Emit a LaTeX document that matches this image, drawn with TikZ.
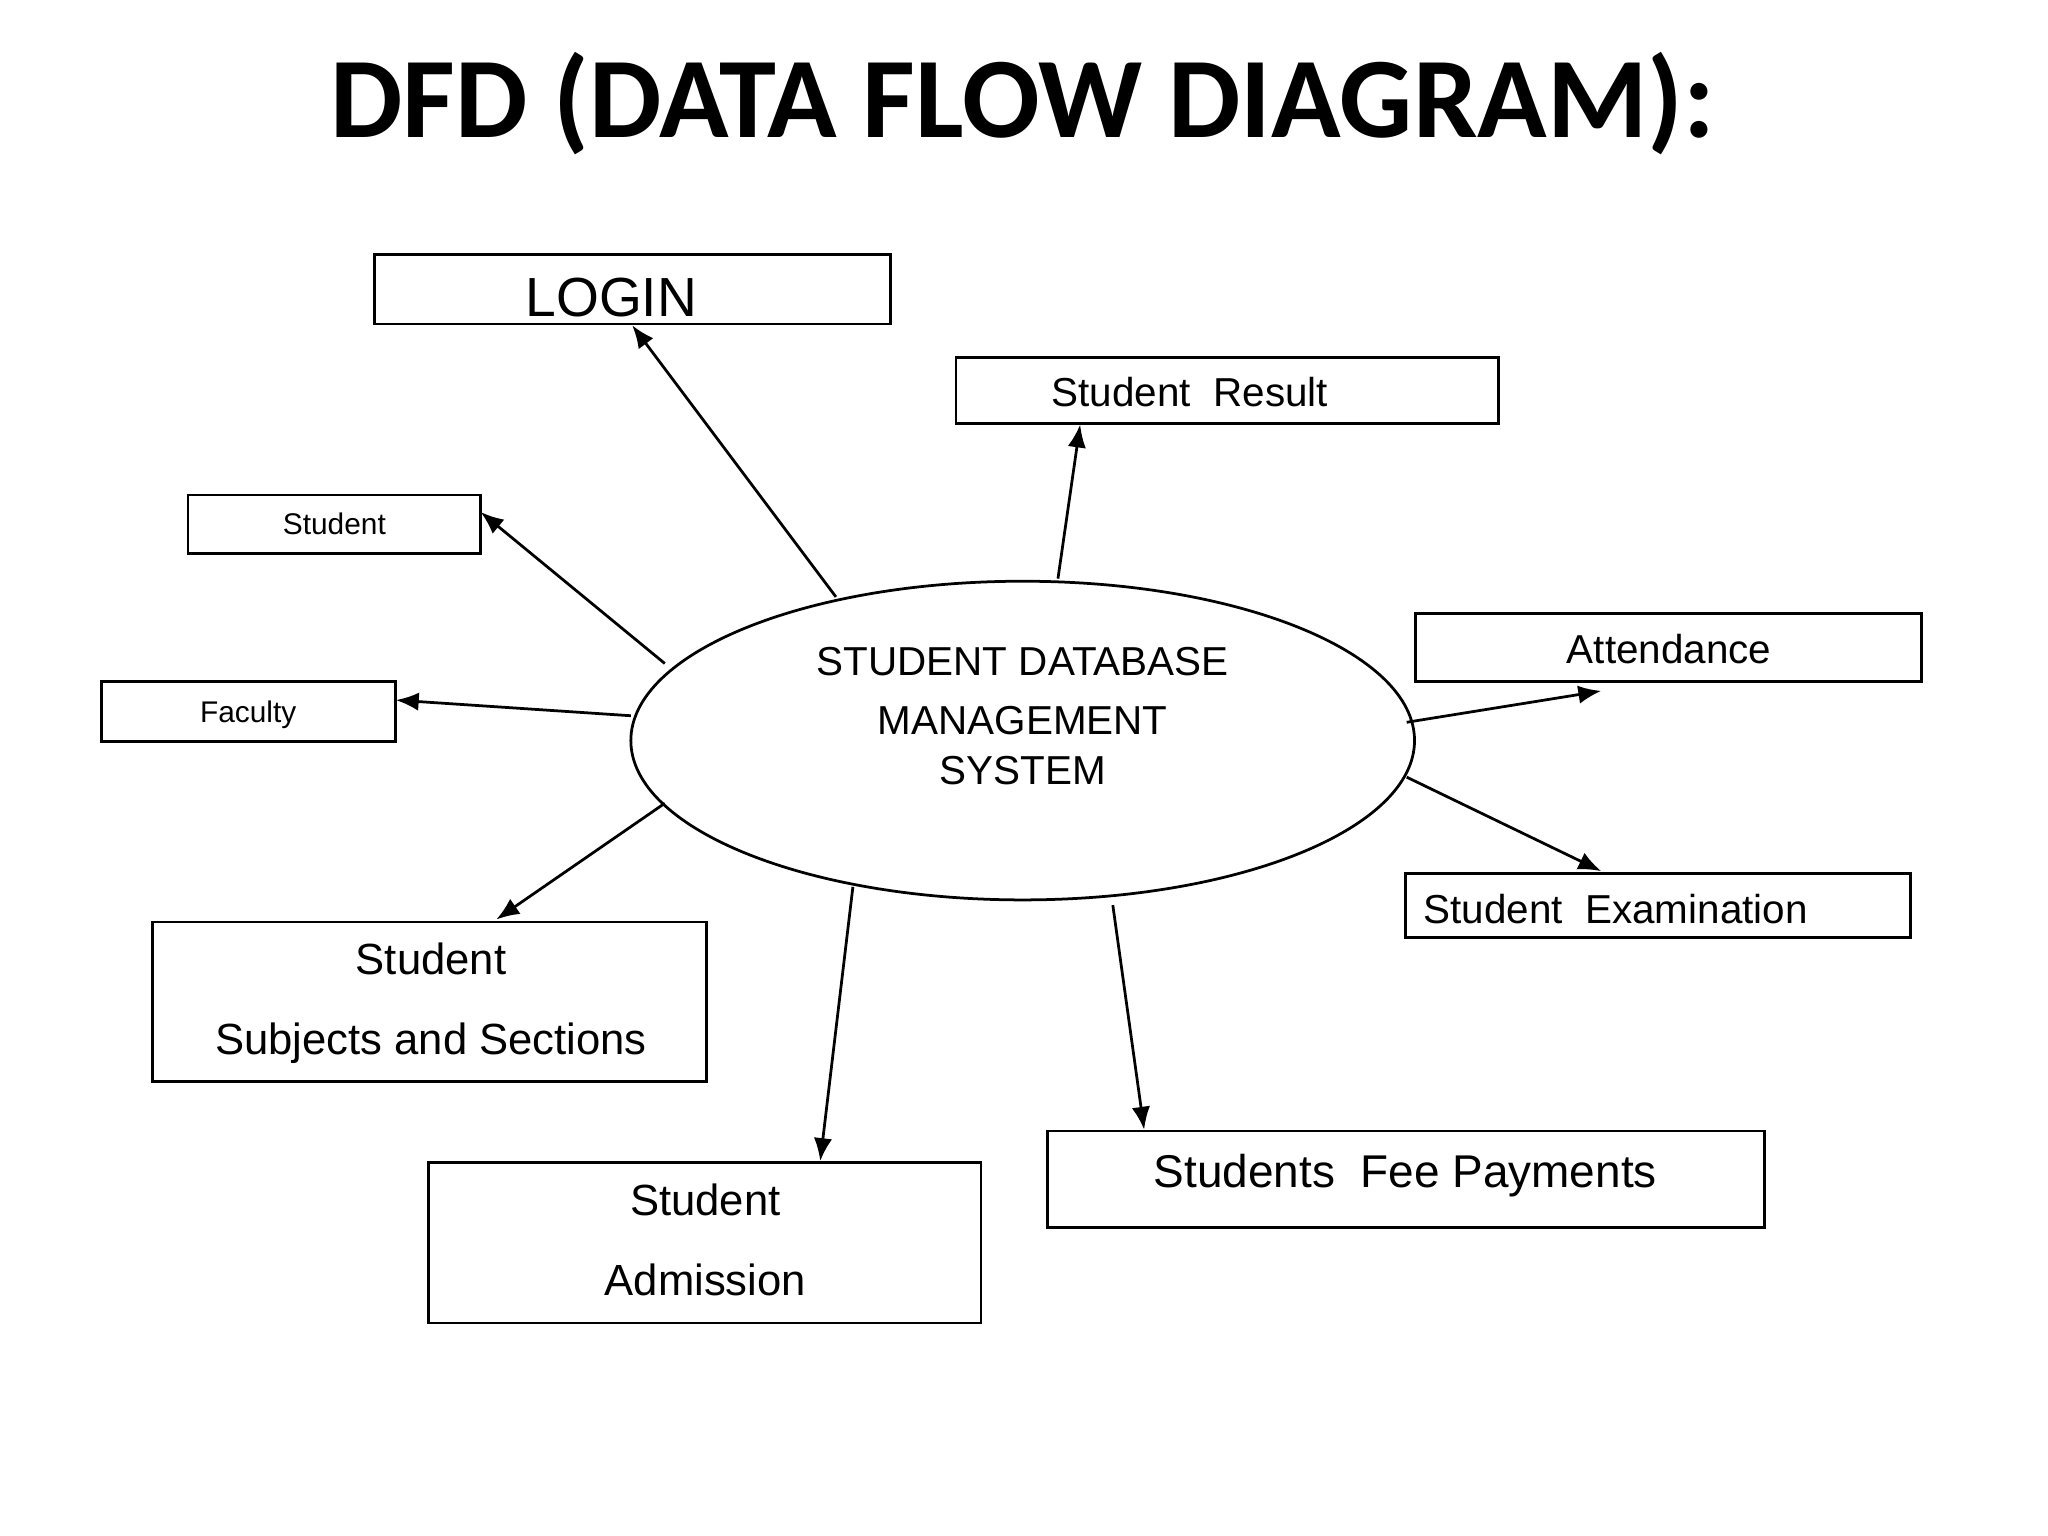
\documentclass[tikz,border=0pt]{standalone}
\usepackage{fontspec}
\setmainfont{Liberation Sans}
\newfontfamily\titlefont{Carlito}
\usetikzlibrary{arrows.meta}
\begin{document}
\begin{tikzpicture}[x=0.01cm,y=-0.01cm,
  box/.style={draw,line width=0.6pt},
  txt/.style={inner sep=0pt,anchor=base},
  arr/.style={-{Latex[length=5pt,width=4pt]},line width=0.6pt}]
\useasboundingbox[fill=white] (0,0) rectangle (1568,1176);
\node[txt,font=\titlefont\bfseries\fontsize{25}{28}\selectfont] (title) at (783,105) {DFD (DATA FLOW DIAGRAM):};
\draw[line width=0.6pt] (783,567) ellipse [x radius=300, y radius=122];
\node[txt,font=\fontsize{8.8}{10}\selectfont] (c1) at (783,517) {STUDENT DATABASE};
\node[txt,font=\fontsize{8.8}{10}\selectfont] (c2) at (783,562) {MANAGEMENT};
\node[txt,font=\fontsize{8.8}{10}\selectfont] (c3) at (783,601) {SYSTEM};
% boxes
\draw[box] (287,195) rectangle (682,248);
\node[txt,font=\fontsize{12}{14}\selectfont] (login) at (468,242) {LOGIN};
\draw[box] (732,274) rectangle (1147,324);
\node[txt,font=\fontsize{8.8}{10}\selectfont] (res) at (911,311) {Student\ \ Result};
\draw[box] (144,379) rectangle (368,424);
\node[txt,font=\fontsize{6.5}{8}\selectfont] (stu) at (256,409) {Student};
\draw[box] (78,522) rectangle (303,568);
\node[txt,font=\fontsize{6.5}{8}\selectfont] (fac) at (190,553) {Faculty};
\draw[box] (1084,470) rectangle (1471,522);
\node[txt,font=\fontsize{8.8}{10}\selectfont] (att) at (1278,508) {Attendance};
\draw[box] (1076,669) rectangle (1463,718);
\node[txt,font=\fontsize{8.8}{10}\selectfont] (exam) at (1237,707) {Student\ \ Examination};
\draw[box] (117,706) rectangle (541,828);
\node[txt,font=\fontsize{9.5}{11}\selectfont] (sub1) at (330,746) {Student};
\node[txt,font=\fontsize{9.5}{11}\selectfont] (sub2) at (330,807) {Subjects and Sections};
\draw[box] (328,890) rectangle (751,1013);
\node[txt,font=\fontsize{9.5}{11}\selectfont] (adm1) at (540,931) {Student};
\node[txt,font=\fontsize{9.5}{11}\selectfont] (adm2) at (540,992) {Admission};
\draw[box] (802,866) rectangle (1351,940);
\node[txt,font=\fontsize{10}{12}\selectfont] (fee) at (1076,909) {Students\ \ Fee Payments};
% arrow endpoints
\coordinate (s1) at (640,457); \coordinate (e1) at (484,249);
\coordinate (s2) at (810,443); \coordinate (e2) at (827,325);
\coordinate (s3) at (509,508); \coordinate (e3) at (368,392);
\coordinate (s4) at (483,548); \coordinate (e4) at (303,536);
\coordinate (s5) at (1077,553); \coordinate (e5) at (1226,529);
\coordinate (s6) at (1077,595); \coordinate (e6) at (1226,667);
\coordinate (s7) at (509,615); \coordinate (e7) at (380,704);
\coordinate (s8) at (653,679); \coordinate (e8) at (628,889);
\coordinate (s9) at (852,693); \coordinate (e9) at (876,865);
\foreach \i in {1,...,9} {\draw[arr] (s\i) -- (e\i);}
\end{tikzpicture}
\end{document}
